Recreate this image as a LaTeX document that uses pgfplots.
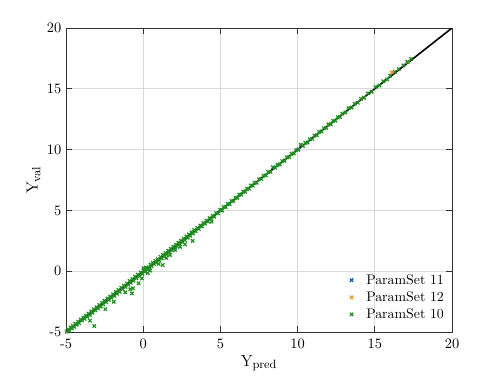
\documentclass[border=0pt]{standalone}
\usepackage{pgfplots}
\pgfplotsset{compat=1.18}
\definecolor{cblue}{rgb}{0.0,0.33,0.74}
\definecolor{corange}{rgb}{0.96,0.58,0.12}
\definecolor{cgreen}{rgb}{0.13,0.56,0.13}
\pgfplotsset{mylegimg/.style={legend image code/.code={\path (-0.05cm,-0.1cm) (0.3cm,0.1cm); \draw plot coordinates {(0cm,0cm)};}}}
\begin{document}
\begin{tikzpicture}
\begin{axis}[
  scale only axis,
  width=289.5pt, height=228pt,
  xmin=-5, xmax=20, ymin=-5, ymax=20,
  xtick={-5,0,5,10,15,20}, ytick={-5,0,5,10,15,20},
  xticklabels={-5,0,5,10,15,20}, yticklabels={-5,0,5,10,15,20},
  grid=major,
  grid style={gray!30, line width=0.5pt},
  axis line style={black!80, line width=0.7pt},
  tick style={black!80, line width=0.6pt},
  tick align=inside,
  tick label style={font=\fontsize{10.8}{13}\selectfont},
  xticklabel style={yshift=-1.5pt},
  xlabel={$\mathrm{Y}_{\mathrm{pred}}$},
  ylabel={$\mathrm{Y}_{\mathrm{val}}$},
  label style={font=\fontsize{13}{15}\selectfont},
  xlabel style={yshift=2pt},
  ylabel style={yshift=-2pt},
  legend style={draw=none, fill=none, at={(0.997,0.02)}, anchor=south east, font=\fontsize{10.4}{12}\selectfont, row sep=0pt},
  legend cell align=left,
]
\addplot[only marks, mark=x, mark size=1.8pt, color=cblue, line width=0.9pt, mylegimg] coordinates {
(0.05,0.05) (5.10,5.02) (10.05,10.00) (2.03,1.88) (-2.50,-2.44)
};
\addlegendentry{ParamSet 11}
\addplot[only marks, mark=x, mark size=1.8pt, color=corange, line width=0.9pt, mylegimg] coordinates {
(12.00,12.06) (16.10,16.36) (17.15,17.20) (14.30,14.26)
};
\addlegendentry{ParamSet 12}
\addplot[only marks, mark=x, mark size=1.8pt, color=cgreen, line width=0.9pt, mylegimg] coordinates {
(-4.95,-4.98) (-4.85,-4.80) (-4.78,-4.90) (-4.70,-4.62) (-4.62,-4.70)
(-4.55,-4.50) (-4.47,-4.58) (-4.40,-4.33) (-4.31,-4.40) (-4.22,-4.15)
(-4.15,-4.28) (-4.05,-3.98) (-3.96,-4.05) (-3.88,-3.80) (-3.80,-3.92)
(-3.71,-3.66) (-3.62,-3.75) (-3.55,-3.48) (-3.45,-3.60) (-3.36,-3.30)
(-3.28,-3.42) (-3.20,-3.12) (-3.10,-3.22) (-3.02,-2.96) (-2.93,-3.05)
(-2.85,-2.78) (-2.75,-2.90) (-2.66,-2.60) (-2.58,-2.72) (-2.50,-2.44)
(-2.40,-2.55) (-2.31,-2.25) (-2.22,-2.36) (-2.13,-2.08) (-2.05,-2.18)
(-1.95,-1.90) (-1.86,-2.02) (-1.78,-1.70) (-1.70,-1.85) (-1.60,-1.55)
(-1.52,-1.68) (-1.42,-1.36) (-1.33,-1.48) (-1.25,-1.18) (-1.15,-1.30)
(-1.05,-1.00) (-0.97,-1.12) (-0.88,-0.80) (-0.80,-0.95) (-0.70,-0.62)
(-0.62,-0.78) (-0.52,-0.45) (-0.43,-0.58) (-0.35,-0.28) (-0.25,-0.40)
(-0.15,-0.10) (-0.05,-0.22) (0.02,0.25) (0.05,0.05) (0.12,-0.05)
(0.18,0.30) (0.25,0.15) (0.32,0.22) (0.40,0.30) (0.48,0.55)
(0.55,0.40) (0.62,0.70) (0.70,0.58) (0.78,0.85) (0.86,0.72)
(0.95,1.00) (1.03,0.90) (1.12,1.18) (1.20,1.05) (1.28,1.35)
(1.36,1.22) (1.45,1.50) (1.53,1.38) (1.62,1.68) (1.70,1.55)
(1.78,1.85) (1.87,1.72) (1.95,2.02) (2.03,1.88) (2.12,2.18)
(2.20,2.05) (2.28,2.35) (2.37,2.22) (2.45,2.50) (2.53,2.40)
(2.62,2.68) (2.70,2.55) (2.80,2.86) (2.88,2.75) (2.96,3.02)
(3.05,2.92) (3.13,3.20) (3.22,3.10) (3.30,3.38) (3.40,3.28)
(3.50,3.56) (3.60,3.48) (3.70,3.76) (3.80,3.68) (3.90,3.96)
(4.00,3.90) (4.10,4.16) (4.20,4.08) (4.30,4.36) (4.40,4.30)
(4.50,4.55) (4.60,4.48) (4.72,4.78) (4.85,4.76) (4.98,5.04)
(5.10,5.02) (5.22,5.28) (5.35,5.28) (5.48,5.55) (5.60,5.52)
(5.72,5.78) (5.85,5.78) (5.98,6.04) (6.10,6.03) (6.22,6.30)
(6.35,6.28) (6.48,6.55) (6.60,6.53) (6.72,6.78) (6.85,6.78)
(6.98,7.05) (7.10,7.03) (7.22,7.28) (7.35,7.28) (7.50,7.57)
(7.65,7.58) (7.80,7.86) (7.95,7.88) (8.10,8.16) (8.25,8.18)
(8.40,8.55) (8.55,8.50) (8.70,8.76) (8.85,8.78) (9.00,9.06)
(9.15,9.08) (9.30,9.36) (9.45,9.38) (9.60,9.66) (9.75,9.68)
(9.90,9.96) (10.05,10.00) (10.20,10.40) (10.35,10.30) (10.50,10.56)
(10.65,10.58) (10.80,10.86) (10.95,10.88) (11.10,11.16) (11.25,11.18)
(11.40,11.46) (11.55,11.48) (11.70,11.76) (11.85,11.78) (12.00,12.06)
(12.15,12.08) (12.30,12.36) (12.45,12.38) (12.60,12.66) (12.75,12.68)
(12.90,12.96) (13.10,13.05) (13.30,13.40) (13.50,13.45) (13.70,13.78)
(13.90,13.85) (14.10,14.18) (14.30,14.26) (14.55,14.62) (14.80,14.76)
(15.05,15.15) (15.30,15.28) (15.55,15.62) (15.80,15.78) (16.00,16.08)
(16.30,16.40) (16.55,16.62) (16.85,16.92) (17.10,17.22) (17.35,17.45)
(-3.17,-4.51) (-3.45,-4.07) (-2.45,-3.13) (-1.91,-2.51) (-1.16,-1.74)
(-0.73,-1.82) (-0.66,-1.41) (-0.84,-1.49) (-0.30,-1.00) (-0.08,-0.59)
(1.26,0.51) (1.74,1.33) (2.06,1.74) (3.20,2.50) (2.71,2.21) (4.43,4.07)
(0.30,-0.15) (1.00,0.60) (0.45,0.05) (1.50,1.10) (2.40,2.00)
};
\addlegendentry{ParamSet 10}
\addplot[black, line width=1.2pt, forget plot] coordinates {(-5,-5) (20,20)};
\end{axis}
\path (current axis.south west) ++(-49.5pt,-33pt) rectangle ++(375pt,282pt);
\end{tikzpicture}
\end{document}
